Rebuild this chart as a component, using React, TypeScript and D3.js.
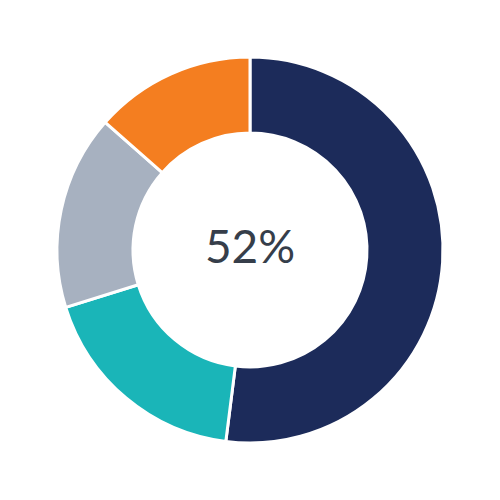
import { useEffect, useRef } from "react";
import * as d3 from "d3";

const WIDTH = 500;
const HEIGHT = 500;
const OUTER_RADIUS = 193;
const INNER_RADIUS = 117;

// slice data, clockwise from 12 o'clock
const labels = ["Navy", "Teal", "Gray", "Orange"];
const values = [52, 18.2, 16.3, 13.5];
const colors = ["#1c2b5a", "#1ab5b8", "#a7b1c0", "#f47e20"];
const centerLabel = "52%";

const App = () => {
  const chartRef = useRef<SVGGElement | null>(null);

  useEffect(() => {
    const g = d3.select(chartRef.current);
    g.selectAll("*").remove();

    const data = labels.map((label, i) => ({ label, value: values[i], color: colors[i] }));

    const pie = d3
      .pie<{ label: string; value: number; color: string }>()
      .value((d) => d.value)
      .sort(null);

    const arc = d3
      .arc<d3.PieArcDatum<{ label: string; value: number; color: string }>>()
      .innerRadius(INNER_RADIUS)
      .outerRadius(OUTER_RADIUS);

    g.selectAll("path")
      .data(pie(data))
      .join("path")
      .attr("d", arc)
      .attr("fill", (d) => d.data.color)
      .attr("stroke", "#ffffff")
      .attr("stroke-width", 3);

    // big percentage in the hole
    g.append("text")
      .attr("x", 0)
      .attr("y", 13)
      .attr("text-anchor", "middle")
      .style("font-family", "Lato, sans-serif")
      .style("font-size", "46px")
      .style("fill", "#363e4a")
      .text(centerLabel);
  }, []);

  return (
    <svg
      width={WIDTH}
      height={HEIGHT}
      style={{ position: "absolute", left: 0, top: 0, background: "#ffffff" }}
    >
      <g ref={chartRef} transform={`translate(${WIDTH / 2}, ${HEIGHT / 2})`} />
    </svg>
  );
};

export default App;
